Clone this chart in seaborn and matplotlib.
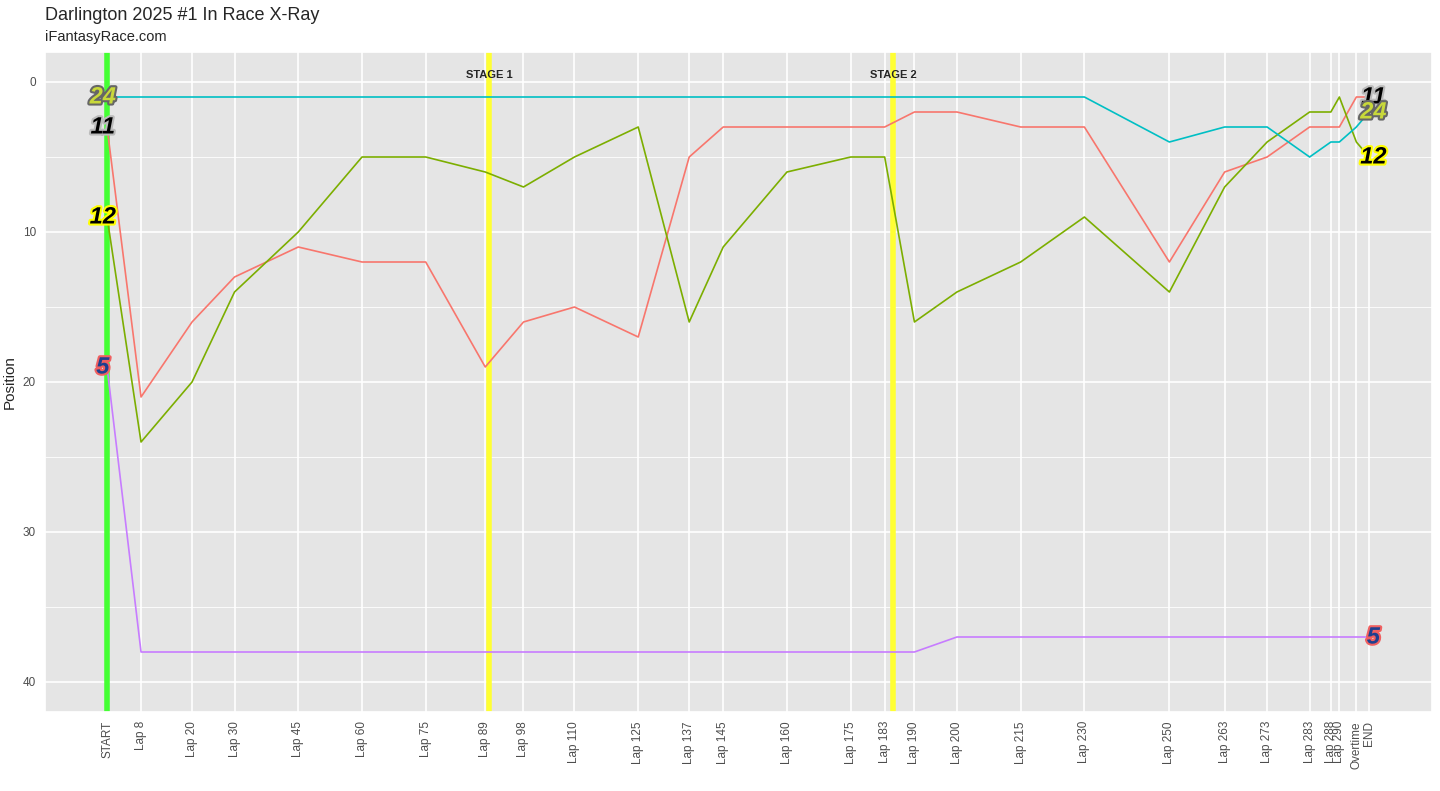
import matplotlib
matplotlib.use("Agg")
import matplotlib.pyplot as plt
import matplotlib.patheffects as pe
import seaborn as sns
import pandas as pd

laps = [0, 8, 20, 30, 45, 60, 75, 89, 98, 110, 125, 137, 145, 160, 175, 183, 190, 200, 215, 230, 250, 263, 273, 283, 288, 290, 294, 297]
tick_labels = ["START", "Lap 8", "Lap 20", "Lap 30", "Lap 45", "Lap 60", "Lap 75", "Lap 89", "Lap 98", "Lap 110",
               "Lap 125", "Lap 137", "Lap 145", "Lap 160", "Lap 175", "Lap 183", "Lap 190", "Lap 200", "Lap 215",
               "Lap 230", "Lap 250", "Lap 263", "Lap 273", "Lap 283", "Lap 288", "Lap 290", "Overtime", "END"]
pos_11 = [3, 21, 16, 13, 11, 12, 12, 19, 16, 15, 17, 5, 3, 3, 3, 3, 2, 2, 3, 3, 12, 6, 5, 3, 3, 3, 1, 1]
pos_12 = [9, 24, 20, 14, 10, 5, 5, 6, 7, 5, 3, 16, 11, 6, 5, 5, 16, 14, 12, 9, 14, 7, 4, 2, 2, 1, 4, 5]
pos_24 = [1, 1, 1, 1, 1, 1, 1, 1, 1, 1, 1, 1, 1, 1, 1, 1, 1, 1, 1, 1, 4, 3, 3, 5, 4, 4, 3, 2]
pos_5 = [19, 38, 38, 38, 38, 38, 38, 38, 38, 38, 38, 38, 38, 38, 38, 38, 38, 37, 37, 37, 37, 37, 37, 37, 37, 37, 37, 37]
drivers = ["11", "12", "24", "5"]
colors = ["#F8766D", "#7CAE00", "#00BFC4", "#C77CFF"]
stages = [90, 185]
stage_names = ["STAGE 1", "STAGE 2"]

series = [pos_11, pos_12, pos_24, pos_5]
df = pd.DataFrame([(l, p, d) for d, s in zip(drivers, series) for l, p in zip(laps, s)],
                  columns=["lap", "pos", "driver"])

sns.set_theme(style="darkgrid", rc={"axes.facecolor": "#E5E5E5", "grid.color": "white"})
plt.rcParams["font.family"] = ["Liberation Sans", "DejaVu Sans"]
fig = plt.figure(figsize=(14.4, 7.91), dpi=100)
ax = fig.add_axes([45/1440, 1-712/791, (1432-45)/1440, (712-52)/791])
ax.set_yticks([5, 15, 25, 35], minor=True)
ax.grid(which="minor", axis="y", color="white", linewidth=0.6)
ax.grid(which="major", color="white", linewidth=1.2)

ax.axvline(0, color="#44FF33", linewidth=4, zorder=1.5)
for s, n in zip(stages, stage_names):
    ax.axvline(s, color="#FFFF33", linewidth=4, zorder=1.5)
    ax.text(s, -0.5, n, ha="center", va="center", fontsize=8, fontweight="bold")

sns.lineplot(data=df, x="lap", y="pos", hue="driver", palette=colors, hue_order=drivers,
             linewidth=1.2, legend=False, ax=ax, estimator=None, sort=False)

styles = {"11": ("black", "#BBBBBB"), "12": ("black", "#FFFF00"), "24": ("#C8D83A", "#666666"), "5": ("#1E3F8F", "#F06060")}
for d, s in zip(drivers, series):
    fc, ec = styles[d]
    for x, y in [(laps[0] - 1, s[0]), (laps[-1] + 1, s[-1])]:
        ax.text(x, y, d, ha="center", va="center", fontsize=17, fontweight="bold", style="italic",
                color=fc, path_effects=[pe.withStroke(linewidth=3, foreground=ec)], zorder=5)

ax.set_xlim(-14.6, 311.8)
ax.set_ylim(42, -2)
ax.set_yticks([0, 10, 20, 30, 40])
ax.set_xticks(laps)
ax.set_xticklabels(tick_labels, rotation=90, fontsize=8.5, color="#4D4D4D")
ax.tick_params(axis="y", labelsize=8.5, labelcolor="#4D4D4D")
ax.tick_params(length=3, color="#333333")
ax.set_xlabel("")
ax.set_ylabel("Position", fontsize=11)
fig.text(45/1440, 1-16/791, "Darlington 2025 #1 In Race X-Ray", fontsize=13, va="center")
fig.text(45/1440, 1-37/791, "iFantasyRace.com", fontsize=10.5, va="center")
fig.savefig("out.png", dpi=100)
